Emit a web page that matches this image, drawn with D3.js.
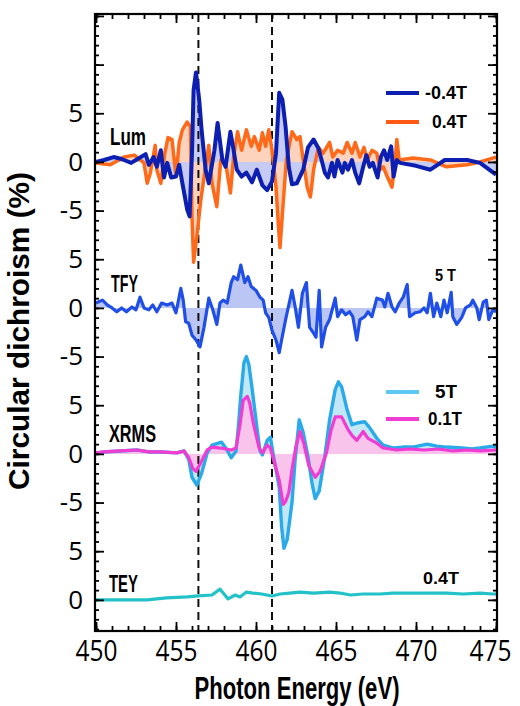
<!DOCTYPE html>
<html>
<head>
<meta charset="utf-8">
<script src="https://cdn.jsdelivr.net/npm/d3@7"></script>
<style>
  body { margin: 0; background: #fff; }
  text { font-family: "Liberation Sans", Arial, sans-serif; fill: #000; }
  .tick text { font-family: "Open Sans", "Liberation Sans", sans-serif; }
</style>
</head>
<body>
<div id="chart"></div>
<script>
// photon energy (eV), circular dichroism (%) for each signal
const lumNeg = [[450.0,0],[450.5,0.2],[451.1,0.5],[451.6,0.3],[452.2,-0.1],[452.6,0.3],[453.1,0.8],[453.3,-0.3],[453.6,0.5],[453.8,-0.5],[454.05,1.2],[454.25,-1.6],[454.45,-0.1],[454.7,-1.6],[455.0,-1.5],[455.2,-0.3],[455.4,-2.2],[455.7,-4.9],[455.85,-5.6],[456.0,1.0],[456.1,7.4],[456.25,9.2],[456.45,6.4],[456.6,3.3],[456.85,-0.8],[457.05,-2.2],[457.4,1.2],[457.6,4.0],[457.9,0.2],[458.1,-0.5],[458.4,3.1],[458.6,1.2],[458.8,-0.8],[459.1,-1.5],[459.4,-1.1],[459.75,-2.1],[460.05,-0.8],[460.4,-2.4],[460.7,-2.9],[461.0,-2.0],[461.25,0.9],[461.45,7.1],[461.65,6.4],[461.85,3.6],[462.05,-0.5],[462.25,-2.3],[462.55,-2.2],[462.95,-0.8],[463.25,1.5],[463.6,2.3],[463.9,1.4],[464.1,0.2],[464.3,-1.1],[464.5,-1.6],[464.75,-0.1],[464.9,-1.5],[465.1,0.2],[465.4,-1.1],[465.55,-0.1],[465.75,-0.8],[466.0,0.2],[466.2,-1.1],[466.45,-2.2],[466.7,-0.5],[466.9,0.7],[467.1,-0.5],[467.3,-0.1],[467.6,-1.6],[467.8,0.5],[468.0,1.2],[468.2,0.2],[468.45,1.6],[468.6,-1.5],[468.8,0.2],[469.0,-0.1],[470.0,-0.4],[470.9,-0.8],[471.8,0.2],[473.2,0.2],[474.0,-0.1],[475.0,-1.3]];

const lumPos = [[450.0,-0.1],[450.9,-0.3],[451.75,0.5],[452.4,0.7],[453.0,-0.1],[453.2,-2.2],[453.4,-1.1],[453.7,1.7],[453.8,-0.8],[454.05,-2.2],[454.3,0.9],[454.5,2.5],[454.75,2.3],[455.0,-1.5],[455.2,2.0],[455.4,3.3],[455.7,4.1],[455.9,3.6],[456.0,-5.6],[456.1,-10.3],[456.3,-7.7],[456.55,-3.9],[456.85,-0.5],[457.05,1.7],[457.25,-2.2],[457.55,-4.6],[457.8,0.2],[458.1,-0.1],[458.4,-3.2],[458.6,0.5],[458.85,3.1],[459.1,1.2],[459.4,3.3],[459.7,1.6],[459.9,2.6],[460.2,1.2],[460.4,3.0],[460.6,1.6],[460.8,3.3],[461.0,1.2],[461.25,-2.6],[461.4,-6.5],[461.5,-8.8],[461.7,-4.2],[461.9,0.2],[462.25,3.1],[462.55,2.3],[462.75,2.6],[462.95,0.2],[463.2,-2.6],[463.4,-3.6],[463.6,-0.8],[463.9,1.5],[464.2,0.9],[464.6,2.0],[464.8,0.5],[465.1,1.2],[465.45,0.9],[465.7,2.0],[466.0,0.9],[466.2,2.0],[466.5,0.5],[466.75,1.5],[466.95,0.2],[467.25,1.2],[467.55,0.9],[467.75,-0.8],[467.95,-0.5],[468.2,-1.5],[468.5,-2.6],[468.7,0.2],[468.8,2.3],[468.95,0.2],[469.8,0.4],[470.9,0.2],[471.9,-0.5],[473.2,-0.3],[474.0,0.0],[475.0,0.5]];

const tfy5 = [[450.0,0.5],[450.4,0.8],[450.7,0.3],[451.0,0],[451.3,-0.4],[451.6,0],[451.9,-0.4],[452.25,0.1],[452.5,-0.2],[452.75,1.1],[453.0,0],[453.3,-0.2],[453.55,0.3],[453.8,-0.4],[454.1,0.5],[454.45,0.3],[454.75,0.5],[455.0,-0.5],[455.3,2.0],[455.45,0.8],[455.6,-1.4],[455.8,-1.6],[456.0,-2.8],[456.25,-3.3],[456.5,-4.0],[456.75,-2.0],[457.05,1.0],[457.3,-0.2],[457.55,-1.7],[457.75,0.5],[457.95,0.8],[458.2,0.5],[458.45,2.6],[458.6,3.2],[458.85,2.9],[459.05,4.4],[459.3,2.6],[459.5,3.2],[459.7,2.2],[460.0,1.8],[460.25,1.1],[460.45,0.8],[460.6,-0.5],[460.8,-1.0],[461.0,-2.3],[461.25,-3.3],[461.45,-4.6],[461.6,-3.3],[461.85,-1.2],[462.05,0.3],[462.25,1.8],[462.45,0.1],[462.65,-2.0],[462.9,1.5],[463.15,2.6],[463.35,-2.0],[463.6,-2.6],[463.75,-3.0],[463.95,1.8],[464.1,-4.0],[464.35,-2.0],[464.6,-1.2],[464.95,1.0],[465.1,-0.9],[465.35,-0.2],[465.6,-0.7],[465.85,-0.4],[466.05,-0.9],[466.3,-3.3],[466.5,-1.2],[466.8,-0.9],[467.0,-0.4],[467.25,-0.9],[467.55,1.0],[467.9,0.8],[468.05,0.1],[468.25,1.5],[468.5,0.1],[468.7,-0.4],[468.95,0.5],[469.2,1.1],[469.45,2.4],[469.6,-0.9],[469.95,-0.5],[470.25,-0.4],[470.5,0],[470.7,-0.5],[470.9,1.5],[471.1,-0.9],[471.3,0.5],[471.55,-0.9],[471.75,0.8],[471.95,-0.5],[472.2,1.6],[472.3,-0.9],[472.55,-1.7],[472.85,-1.0],[473.1,0],[473.4,0.3],[473.55,0.8],[473.8,0],[473.95,-1.2],[474.2,0.6],[474.4,0.8],[474.55,-1.2],[474.8,-0.2],[475.0,-0.4]];

const xrms5 = [[450.0,0.1],[450.5,0.2],[451.5,0.3],[452.55,0.4],[453.3,0.2],[454.05,0.2],[455.05,0.1],[455.5,0.3],[455.8,-0.6],[456.0,-2.4],[456.3,-3.2],[456.6,-2.0],[456.95,0.1],[457.25,0.9],[457.85,1.2],[458.15,0.5],[458.45,-0.4],[458.75,0.3],[458.9,2.8],[459.05,6.0],[459.25,9.4],[459.4,10.0],[459.55,9.2],[459.75,6.8],[460.05,2.8],[460.25,0.3],[460.4,-0.1],[460.7,1.4],[460.9,1.7],[461.1,-0.3],[461.45,-3.4],[461.6,-7.5],[461.75,-9.7],[461.95,-8.8],[462.25,-5.0],[462.45,-0.5],[462.7,3.5],[462.95,2.2],[463.25,-0.3],[463.5,-3.0],[463.7,-4.6],[463.95,-3.8],[464.3,-0.3],[464.6,3.5],[464.95,6.6],[465.15,7.4],[465.35,6.9],[465.7,4.5],[466.0,3.0],[466.4,3.2],[466.8,3.3],[467.1,2.7],[467.55,1.6],[467.95,0.9],[468.6,0.6],[469.2,0.7],[469.8,0.7],[470.7,1.0],[471.3,0.8],[471.9,0.7],[472.9,0.6],[473.5,0.5],[474.0,0.6],[474.8,0.8],[475.0,0.7]];

const xrms01 = [[450.0,0.1],[450.5,0.2],[451.5,0.3],[452.55,0.4],[453.3,0.2],[454.05,0.2],[455.05,0.1],[455.5,0.3],[455.8,-0.4],[456.05,-1.5],[456.25,-1.8],[456.55,-0.9],[456.95,0.4],[457.25,0.7],[457.8,0.6],[458.45,0.4],[458.75,0.6],[459.0,3.0],[459.2,5.5],[459.45,5.9],[459.6,5.3],[459.85,3.0],[460.2,0.6],[460.4,0.1],[460.7,0.9],[460.9,0.6],[461.1,-0.6],[461.45,-2.7],[461.7,-5.2],[461.85,-4.9],[462.05,-4.0],[462.25,-1.6],[462.5,0.8],[462.75,2.3],[463.0,1.0],[463.3,-1.2],[463.7,-2.4],[464.0,-1.8],[464.4,0.1],[464.7,2.5],[464.95,3.8],[465.35,3.8],[465.75,2.5],[466.0,1.9],[466.3,1.4],[466.7,2.3],[467.0,1.6],[467.55,1.1],[467.95,0.6],[468.8,0.4],[469.6,0.5],[470.5,0.4],[471.4,0.5],[472.3,0.3],[473.2,0.4],[474.0,0.3],[475.0,0.4]];

const tey04 = [[450.0,0],[451.5,0],[453.2,0],[454.4,0.2],[455.7,0.3],[456.4,0.4],[457.25,0.5],[457.75,1.1],[457.95,0.7],[458.25,0.1],[458.7,0.5],[459.0,0.3],[459.4,0.8],[459.8,0.7],[460.35,0.6],[461.0,0.4],[461.5,0.6],[462.1,0.7],[462.75,0.8],[463.6,0.7],[464.6,0.8],[465.25,0.7],[465.9,0.5],[466.7,0.6],[467.75,0.6],[468.55,0.7],[469.8,0.7],[470.9,0.7],[471.9,0.7],[472.95,0.6],[474.0,0.7],[474.8,0.6],[475.0,0.6]];

// vertical offset of each trace on the shared axis
const offLum = 45, offTfy = 30, offXrms = 15, offTey = 0;
const edgeLines = [456.4, 461.0];
const xTicks = [450, 455, 460, 465, 470, 475];
const yLabelTicks = [0, 5, 10, 15, 20, 25, 30, 35, 40, 45, 50];

const width = 520, height = 706;
const pLeft = 95, pRight = 497, pTop = 14, pBottom = 631;

const svg = d3.select("#chart").append("svg")
    .attr("width", width)
    .attr("height", height);

const x = d3.scaleLinear().domain([450, 475]).range([96, 496]);
const y = d3.scaleLinear().domain([-3.2, 60.2]).range([pBottom, pTop]);

function line(off) {
    return d3.line().x(d => x(d[0])).y(d => y(d[1] + off));
}
function area(off) {
    return d3.area().x(d => x(d[0])).y0(y(off)).y1(d => y(d[1] + off));
}

// fills
svg.append("path").datum(lumPos).attr("d", area(offLum)).attr("fill", "#fdd3bd");
svg.append("path").datum(lumNeg).attr("d", area(offLum)).attr("fill", "#bcc2f2").attr("fill-opacity", 0.85);
svg.append("path").datum(tfy5).attr("d", area(offTfy)).attr("fill", "#bcc6f4");
svg.append("path").datum(xrms5).attr("d", area(offXrms)).attr("fill", "#c2e8f8");
svg.append("path").datum(xrms01).attr("d", area(offXrms)).attr("fill", "#f9c4ec");

// dashed lines
svg.selectAll(".edge").data(edgeLines).enter().append("line")
    .attr("x1", d => x(d)).attr("x2", d => x(d))
    .attr("y1", pTop).attr("y2", pBottom)
    .attr("stroke", "#111").attr("stroke-width", 2)
    .attr("stroke-dasharray", "8,5");

// traces
const traces = [
    [lumPos, offLum, "#ff6a1a", 3.5],
    [lumNeg, offLum, "#0d1fb0", 4],
    [tfy5, offTfy, "#1f4fe6", 3.2],
    [xrms5, offXrms, "#2aaae8", 3.4],
    [xrms01, offXrms, "#f03cd2", 3.2],
    [tey04, offTey, "#22c2c8", 3.2]
];
traces.forEach(t => {
    svg.append("path").datum(t[0])
        .attr("d", line(t[1]))
        .attr("fill", "none")
        .attr("stroke", t[2])
        .attr("stroke-width", t[3])
        .attr("stroke-linejoin", "round");
});

// axes, ticks pointing inward
function clean(g) {
    g.select(".domain").remove();
    g.selectAll("line").attr("stroke", "#000").attr("stroke-width", 1.8);
}
svg.append("g").attr("transform", `translate(${pLeft},0)`)
    .call(d3.axisLeft(y).tickValues(d3.range(-3, 61)).tickSize(-4).tickFormat(""))
    .call(clean);
svg.append("g").attr("transform", `translate(${pLeft},0)`)
    .call(d3.axisLeft(y).tickValues(yLabelTicks.concat([55, 60])).tickSize(-9).tickPadding(12)
        .tickFormat(v => v > 50 ? "" : ((v + 5) % 15) - 5))
    .call(clean)
    .selectAll("text")
    .style("font-size", "26px");
svg.append("g").attr("transform", `translate(${pRight},0)`)
    .call(d3.axisRight(y).tickValues(d3.range(-3, 61)).tickSize(-4).tickFormat(""))
    .call(clean);
svg.append("g").attr("transform", `translate(${pRight},0)`)
    .call(d3.axisRight(y).tickValues(d3.range(0, 61, 5)).tickSize(-9).tickFormat(""))
    .call(clean);

svg.append("g").attr("transform", `translate(0,${pBottom})`)
    .call(d3.axisBottom(x).tickValues(d3.range(450, 476)).tickSize(-5).tickFormat(""))
    .call(clean);
svg.append("g").attr("transform", `translate(0,${pBottom})`)
    .call(d3.axisBottom(x).tickValues(xTicks).tickSize(-9).tickPadding(9).tickFormat(d3.format("d")))
    .call(clean)
    .selectAll("text")
    .style("font-size", "29px")
    .attr("textLength", 42)
    .attr("lengthAdjust", "spacingAndGlyphs")
    .attr("dx", d => d === 475 ? -6 : 0);
svg.append("g").attr("transform", `translate(0,${pTop})`)
    .call(d3.axisTop(x).tickValues(d3.range(450, 476)).tickSize(-5).tickFormat(""))
    .call(clean);
svg.append("g").attr("transform", `translate(0,${pTop})`)
    .call(d3.axisTop(x).tickValues(xTicks).tickSize(-9).tickFormat(""))
    .call(clean);

// frame
svg.append("rect")
    .attr("x", pLeft).attr("y", pTop)
    .attr("width", pRight - pLeft).attr("height", pBottom - pTop)
    .attr("fill", "none").attr("stroke", "#000").attr("stroke-width", 2.2);

// bold condensed text, squeezed to the width seen in the figure
function boldText(txt, tx, ty, size, len, anchor, rot) {
    return svg.append("text")
        .attr("transform", `translate(${tx},${ty})` + (rot ? " rotate(-90)" : ""))
        .attr("text-anchor", anchor || "start")
        .attr("textLength", len)
        .attr("lengthAdjust", "spacingAndGlyphs")
        .style("font-size", size + "px")
        .style("font-weight", "bold")
        .text(txt);
}

// titles
boldText("Circular dichroism (%)", 29, 331, 30, 318, "middle", true);
boldText("Photon Energy (eV)", 297, 699, 31, 205, "middle");

// trace names
boldText("Lum", 110, 145, 23, 36);
boldText("TFY", 111, 292, 23, 27);
boldText("XRMS", 109, 442, 23, 47);
boldText("TEY", 109, 592, 23, 29);
boldText("5 T", 435, 281, 17, 21);
boldText("0.4T", 423, 584, 17, 36);

// legends
const legends = [
    ["-0.4T", "#0d1fb0", 93, 425, 42],
    ["0.4T", "#ff5a14", 122, 432, 35],
    ["5T", "#5cc8f2", 392, 435, 22],
    ["0.1T", "#f03cd2", 419, 428, 34]
];
legends.forEach(l => {
    svg.append("line")
        .attr("x1", 386).attr("x2", 419)
        .attr("y1", l[2]).attr("y2", l[2])
        .attr("stroke", l[1]).attr("stroke-width", 4);
    boldText(l[0], l[3], l[2] + 6, 18, l[4]);
});
</script>
</body>
</html>
